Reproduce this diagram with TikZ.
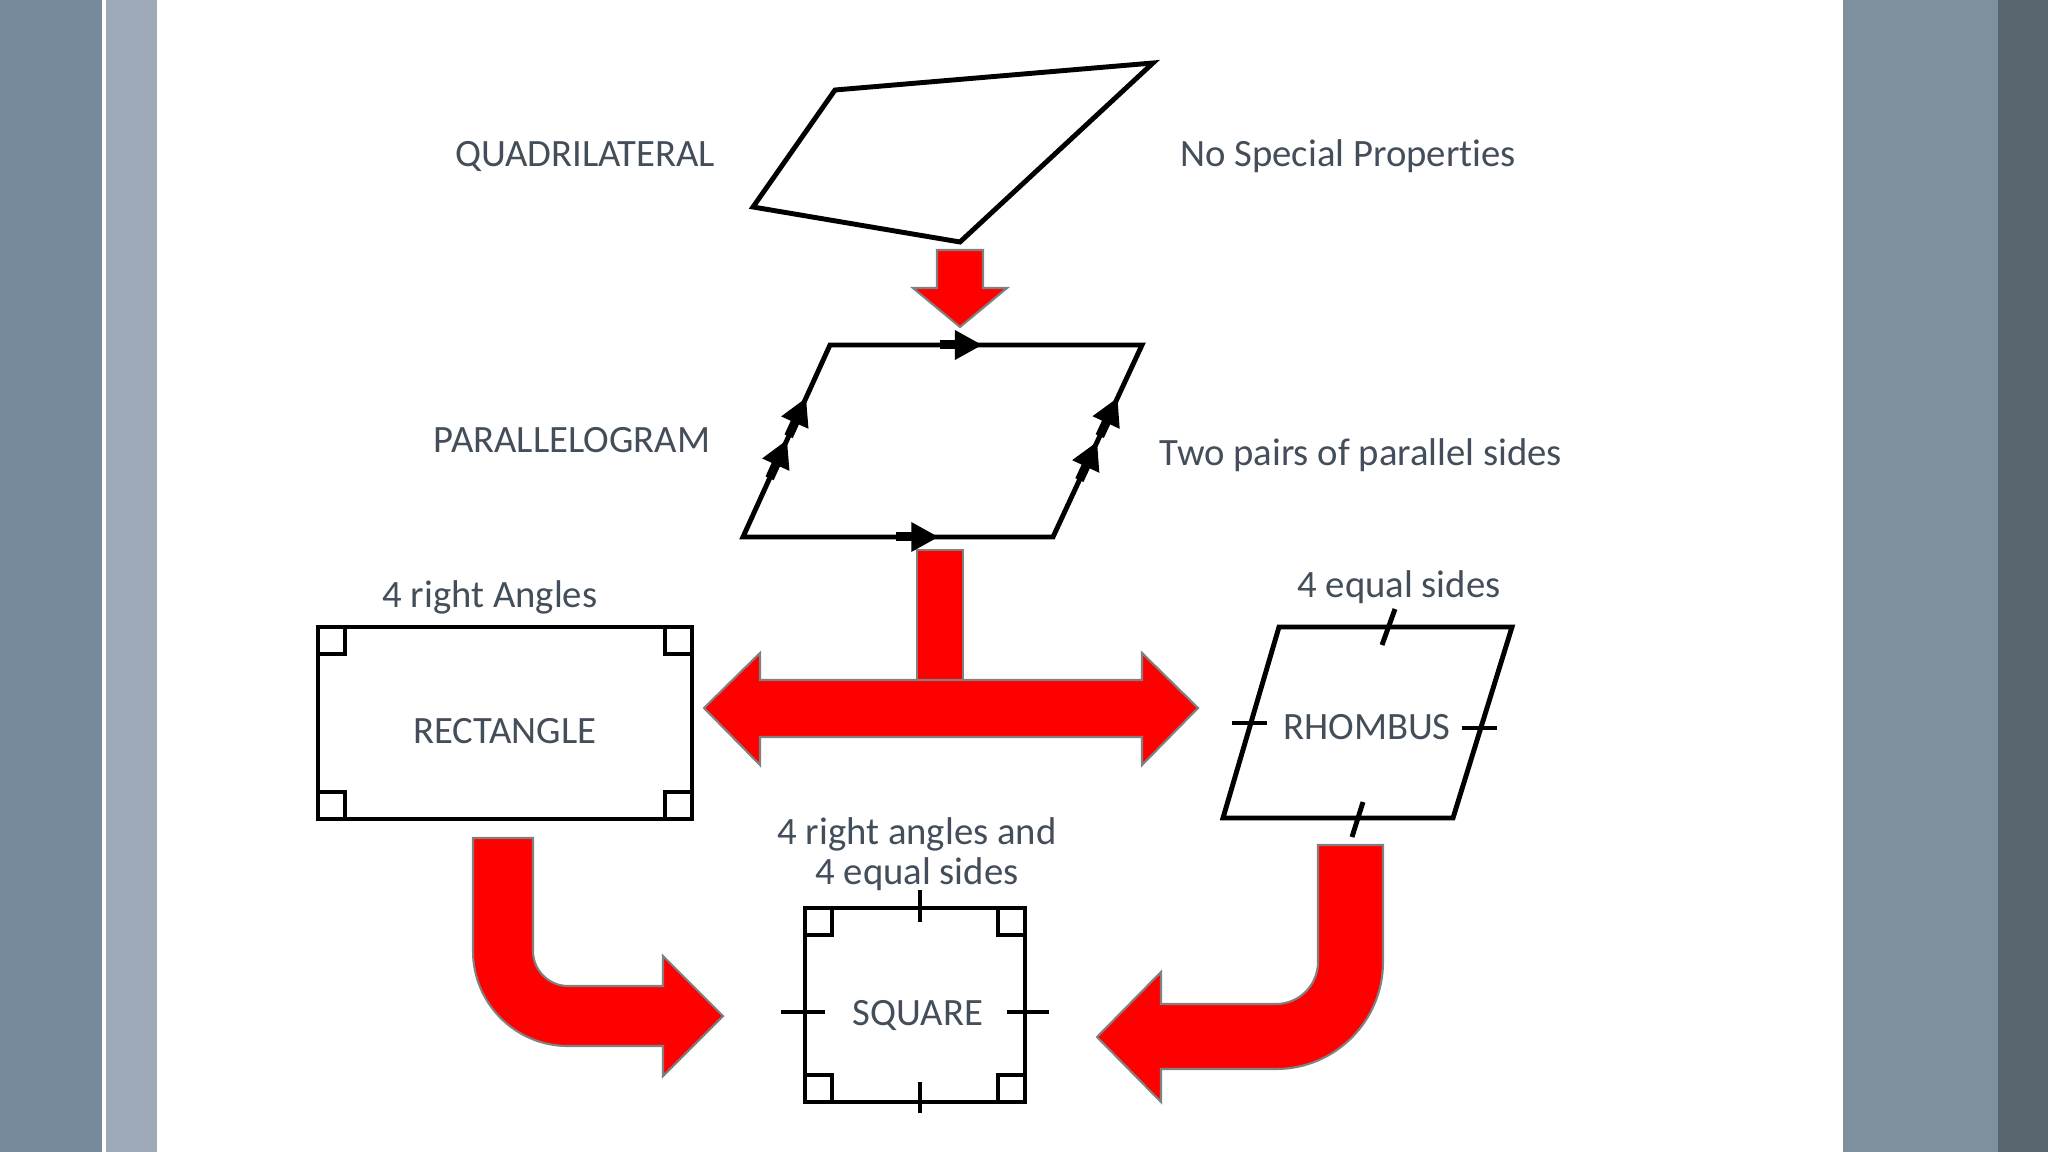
\documentclass[tikz,border=0pt]{standalone}
\usepackage{fontspec}
\setmainfont{Carlito}[Ligatures=NoCommon]
\usepackage{tikz}
\usetikzlibrary{arrows.meta,calc,decorations.markings}
\definecolor{slidetext}{RGB}{67,78,90}
\definecolor{bandA}{RGB}{118,138,156}
\definecolor{bandB}{RGB}{159,170,184}
\definecolor{bandC}{RGB}{126,143,158}
\definecolor{bandD}{RGB}{89,101,111}
\tikzset{
  lbl/.style={font=\fontsize{11}{13}\selectfont, text=slidetext, inner sep=0pt, anchor=base},
  outline/.style={draw=black, line width=1.4pt, line join=miter},
  tick/.style={draw=black, line width=1.4pt},
  redarrow/.style={fill=red, draw=gray, line width=0.6pt, line join=miter},
  parmark/.style={postaction={decorate, decoration={markings, mark=at position #1 with {\fill (-42,-4.5) rectangle (-22,4.5); \fill (-27,-15) -- (0,0) -- (-27,15) -- cycle;}}}}
}

\begin{document}
\begin{tikzpicture}[x=0.01cm,y=-0.01cm]
  \useasboundingbox (0,0) rectangle (2048,1152);
  \fill[white] (0,0) rectangle (2048,1152);
  \fill[bandA] (0,0) rectangle (102,1152);
  \fill[bandB] (106,0) rectangle (157,1152);
  \fill[bandC] (1843,0) rectangle (1998,1152);
  \fill[bandD] (1998,0) rectangle (2048,1152);

  % quadrilateral
  \coordinate (q1) at (835,90);
  \coordinate (q2) at (1153,63);
  \coordinate (q3) at (960,242);
  \coordinate (q4) at (753,207);
  \draw[outline] (q1) -- (q2) -- (q3) -- (q4) -- cycle;
  \node[lbl] (quadlbl) at (585,167) {QUADRILATERAL};
  \node[lbl] (quadprop) at (1348,167) {No Special Properties};
  \draw[redarrow] (937,250) -- (983,250) -- (983,288) -- (1007,288) -- (960,327) -- (913,288) -- (937,288) -- cycle;

  % parallelogram
  \coordinate (p1) at (743,537);
  \coordinate (p2) at (1053,537);
  \coordinate (p3) at (1142,345);
  \coordinate (p4) at (830,345);
  \draw[outline] (p1) -- (p2) -- (p3) -- (p4) -- cycle;
  \path[parmark=0.487] (p4) -- (p3);
  \path[parmark=0.63] (p1) -- (p2);
  \path[parmark=0.505, parmark=0.724] (p1) -- (p4);
  \path[parmark=0.495, parmark=0.724] (p2) -- (p3);
  \node[lbl] (paralbl) at (572,453) {PARALLELOGRAM};
  \node[lbl] (paraprop) at (1361,466) {Two pairs of parallel sides};

  \draw[redarrow] (917,550) rectangle (963,690);
  \draw[redarrow] (760,680) -- (1142,680) -- (1142,653) -- (1198,708) -- (1142,765) -- (1142,737) -- (760,737) -- (760,765) -- (704,708) -- (760,653) -- cycle;

  % rectangle
  \coordinate (r1) at (318,627);
  \coordinate (r2) at (692,819);
  \draw[outline] (r1) rectangle (r2);
  \foreach \px/\py/\dx/\dy in {318/627/1/1, 692/627/-1/1, 318/819/1/-1, 692/819/-1/-1}
    \draw[outline] (\px,{\py+27*\dy}) -- ({\px+27*\dx},{\py+27*\dy}) -- ({\px+27*\dx},\py);
  \node[lbl] (rectlbl) at (505,743) {RECTANGLE};
  \node[lbl] (rectprop) at (490,607) {4 right Angles};

  % rhombus
  \coordinate (h1) at (1223,818);
  \coordinate (h2) at (1453,818);
  \coordinate (h3) at (1512,627);
  \coordinate (h4) at (1279,627);
  \draw[outline] (h1) -- (h2) -- (h3) -- (h4) -- cycle;
  \draw[tick] (1382,645) -- (1395,609);
  \draw[tick] (1352,837) -- (1363,802);
  \draw[tick] (1232,723) -- (1267,723);
  \draw[tick] (1462,728) -- (1497,728);
  \node[lbl] (rhomlbl) at (1367,739) {RHOMBUS};
  \node[lbl] (rhomprop) at (1399,597) {4 equal sides};

  % square
  \coordinate (s1) at (805,908);
  \coordinate (s2) at (1025,1102);
  \draw[outline] (s1) rectangle (s2);
  \foreach \px/\py/\dx/\dy in {805/908/1/1, 1025/908/-1/1, 805/1102/1/-1, 1025/1102/-1/-1}
    \draw[outline] (\px,{\py+27*\dy}) -- ({\px+27*\dx},{\py+27*\dy}) -- ({\px+27*\dx},\py);
  \draw[tick] (920,890) -- (920,922);
  \draw[tick] (920,1082) -- (920,1113);
  \draw[tick] (781,1012) -- (825,1012);
  \draw[tick] (1007,1012) -- (1049,1012);
  \node[lbl] (sqlbl) at (918,1025) {SQUARE};
  \node[lbl] (sqpropa) at (917,844) {4 right angles and};
  \node[lbl] (sqpropb) at (917,884) {4 equal sides};

  % bent arrows
  \draw[redarrow] (473,838) -- (473,951) .. controls (473,1003.5) and (515.5,1046) .. (568,1046) -- (663,1046) -- (663,1076) -- (723,1016) -- (663,956) -- (663,986) -- (568,986) .. controls (548.7,986) and (533,970.3) .. (533,951) -- (533,838) -- cycle;
  \draw[redarrow] (1318,845) -- (1383,845) -- (1383,962) .. controls (1383,1021.1) and (1335.1,1069) .. (1276,1069) -- (1161,1069) -- (1161,1102) -- (1097,1037) -- (1161,972) -- (1161,1004) -- (1276,1004) .. controls (1299.2,1004) and (1318,985.2) .. (1318,962) -- cycle;
\end{tikzpicture}
\end{document}
